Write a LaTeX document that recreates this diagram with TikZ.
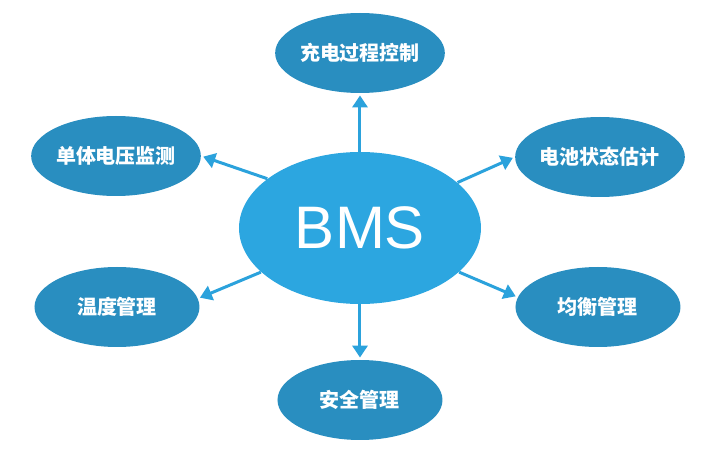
\documentclass[tikz,border=0pt]{standalone}
\usepackage{fontspec}
\setmainfont{Liberation Sans}
\newfontfamily\cjk{Noto Sans CJK SC}
\usetikzlibrary{shapes.geometric,arrows.meta}
\definecolor{centerblue}{RGB}{44,166,224}
\definecolor{outerblue}{RGB}{41,142,192}
\definecolor{arrowblue}{RGB}{43,162,220}
\tikzset{
  hub/.style={ellipse, fill=centerblue, inner sep=0pt, minimum width=121pt, minimum height=76pt,
    text=white, font=\fontsize{30pt}{30pt}\selectfont},
  leaf/.style={ellipse, fill=outerblue, inner sep=0pt, minimum width=82.5pt, minimum height=40pt,
    text=white, font=\cjk\bfseries\fontsize{10pt}{10pt}\selectfont},
  conn/.style={draw=arrowblue, line width=1.5pt, -{Triangle[length=6pt,width=7.5pt]}, shorten >=1pt}
}
\begin{document}
\begin{tikzpicture}[x=0.5pt,y=-0.5pt]
\useasboundingbox (0,0) rectangle (720,471);
\node[leaf] (t)  at (360,53)  {充电过程控制};
\node[leaf] (lt) at (116,156) {单体电压监测};
\node[leaf] (rt) at (600,157) {电池状态估计};
\node[leaf] (lb) at (117,307) {温度管理};
\node[leaf] (rb) at (598,307) {均衡管理};
\node[leaf] (b)  at (360,400) {安全管理};
\node[hub] (c) at (360,228) {BMS};
\draw[conn] (c.north) -- (t.south);
\draw[conn] (c.south) -- (b.north);
\draw[conn] (c.152) -- (lt.east);
\draw[conn] (c.25) -- (rt.west);
\draw[conn] (c.204) -- (lb.6);
\draw[conn] (c.336) -- (rb.173);
\end{tikzpicture}
\end{document}
